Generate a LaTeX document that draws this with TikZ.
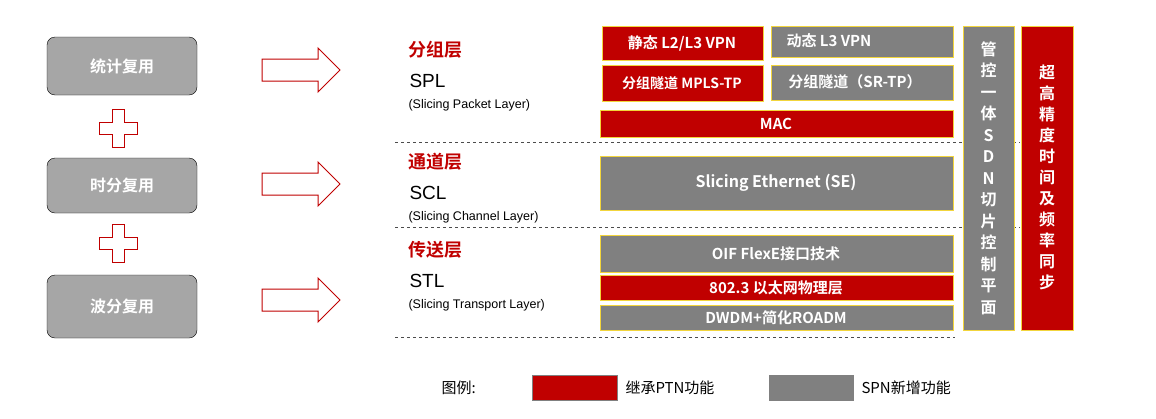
\documentclass[tikz,border=0pt]{standalone}
\usepackage{fontspec}
\setmainfont{Liberation Sans}
\newfontfamily\cjk{Noto Sans CJK SC}[BoldFont={Noto Sans CJK SC Bold}]
\definecolor{myred}{HTML}{C00000}
\definecolor{mygray}{HTML}{808080}
\definecolor{lgray}{HTML}{A6A6A6}
\definecolor{edge}{HTML}{F2D53C}
\begin{document}
\begin{tikzpicture}[x=1pt,y=-1pt,
 redbox/.style={fill=myred,draw=edge,line width=0.8pt},
 graybox/.style={fill=mygray,draw=edge,line width=0.8pt},
 btxt/.style={text=white,font=\cjk\bfseries\fontsize{15}{17}\selectfont},
 leftbox/.style={fill=lgray,rounded corners=8pt},
 arr/.style={draw=myred,line width=1pt,fill=white},
 dline/.style={dashed,line width=0.6pt,black!70}]
\useasboundingbox (0,0) rectangle (1156,418);
% left boxes
\foreach \n/\a/\b/\t in {l1/37/95/统计复用,l2/158/213/时分复用,l3/275/338/波分复用}{
 \draw[leftbox] (47,\a) rectangle (197,\b);
 \node[btxt,font=\cjk\bfseries\fontsize{16}{18}\selectfont] (\n) at (122,{(\a+\b)/2}) {\t};}
% crosses
\foreach \cy in {128,243}{
 \draw[arr] (112,{\cy-19}) -- (124,{\cy-19}) -- (124,{\cy-6}) -- (137,{\cy-6}) -- (137,{\cy+6}) -- (124,{\cy+6}) -- (124,{\cy+19}) -- (112,{\cy+19}) -- (112,{\cy+6}) -- (99,{\cy+6}) -- (99,{\cy-6}) -- (112,{\cy-6}) -- cycle;}
% arrows
\foreach \cy in {70,184,300}{
 \draw[arr] (262,{\cy-11}) -- (318,{\cy-11}) -- (318,{\cy-22}) -- (340,\cy) -- (318,{\cy+22}) -- (318,{\cy+11}) -- (262,{\cy+11}) -- cycle;}
% layer labels
\foreach \y/\c/\e/\f in {50/分组层/SPL/(Slicing Packet Layer),162/通道层/SCL/(Slicing Channel Layer),250/传送层/STL/(Slicing Transport Layer)}{
 \node[anchor=west,text=myred,font=\cjk\bfseries\fontsize{18}{20}\selectfont] at (405,\y) {\c};
 \node[anchor=west,font=\fontsize{19}{21}\selectfont] at (406,{\y+31}) {\e};
 \node[anchor=west,font=\fontsize{12.5}{14}\selectfont] at (405,{\y+55}) {\f};}
% dashed lines
\draw[dline] (395,142) -- (1020,142);
\draw[dline] (395,227) -- (1020,227);
\draw[dline] (395,337) -- (955,337);
% boxes
\draw[redbox] (602,26) rectangle (763,60); \node[btxt] (b1) at (682,43) {静态 L2/L3 VPN};
\draw[graybox] (771,26) rectangle (953,57); \node[btxt,anchor=west] (b2) at (783,41) {动态 L3 VPN};
\draw[redbox] (602,65) rectangle (763,101); \node[btxt,font=\cjk\bfseries\fontsize{14}{16}\selectfont] (b3) at (682,83) {分组隧道 MPLS-TP};
\draw[graybox] (771,65) rectangle (953,100); \node[btxt] (b4) at (855,82) {分组隧道（SR-TP）};
\draw[redbox] (600,110) rectangle (953,137); \node[btxt] (b5) at (776,123.5) {MAC};
\draw[graybox] (600,156) rectangle (953,210); \node[btxt,font=\cjk\bfseries\fontsize{16}{18}\selectfont] (b6) at (776,183) {Slicing Ethernet (SE)};
\draw[graybox] (600,235) rectangle (953,272); \node[btxt] (b7) at (776,253.5) {OIF FlexE接口技术};
\draw[redbox] (600,275) rectangle (953,300); \node[btxt] (b8) at (776,287.5) {802.3 以太网物理层};
\draw[graybox] (600,305) rectangle (953,330); \node[btxt] (b9) at (776,317.5) {DWDM+简化ROADM};
\draw[graybox] (963,26) rectangle (1014,330);
\node[btxt,align=center,font=\cjk\bfseries\fontsize{16}{21.5}\selectfont] (v1) at (988.5,178) {管\\控\\一\\体\\S\\D\\N\\切\\片\\控\\制\\平\\面};
\draw[redbox] (1021,26) rectangle (1073,330);
\node[btxt,align=center,font=\cjk\bfseries\fontsize{16}{21}\selectfont] (v2) at (1047,177) {超\\高\\精\\度\\时\\间\\及\\频\\率\\同\\步};
% legend
\node[anchor=west,font=\cjk\fontsize{15}{17}\selectfont] at (438,388) {图例:};
\draw[redbox,draw=black!50] (532,375) rectangle (617,400);
\node[anchor=west,font=\cjk\fontsize{15}{17}\selectfont] at (622,388) {继承PTN功能};
\draw[graybox,draw=black!50] (769,375) rectangle (853,400);
\node[anchor=west,font=\cjk\fontsize{15}{17}\selectfont] at (858,388) {SPN新增功能};
\end{tikzpicture}
\end{document}
